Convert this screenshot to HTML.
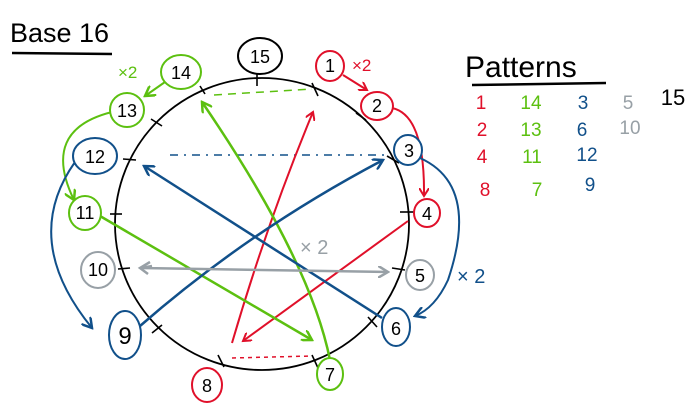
<!DOCTYPE html>
<html><head><meta charset="utf-8"><style>
html,body{margin:0;padding:0;background:#fff;width:696px;height:409px;overflow:hidden}
text{font-family:"Liberation Sans",sans-serif}
</style></head><body>
<svg width="696" height="409" viewBox="0 0 696 409" xmlns="http://www.w3.org/2000/svg">
<defs>
<marker id="r" markerWidth="10" markerHeight="10" refX="8" refY="5" orient="auto" markerUnits="userSpaceOnUse"><path d="M0,0 L8,5 L0,10" fill="none" stroke="#e0102a" stroke-width="2"/></marker>
<marker id="g" markerWidth="12" markerHeight="12" refX="10" refY="6" orient="auto" markerUnits="userSpaceOnUse"><path d="M0,0 L10,6 L0,12" fill="none" stroke="#5cc010" stroke-width="2.5"/></marker>
<marker id="b" markerWidth="12" markerHeight="12" refX="10" refY="6" orient="auto" markerUnits="userSpaceOnUse"><path d="M0,0 L10,6 L0,12" fill="none" stroke="#11508a" stroke-width="2.5"/></marker>
<marker id="y" markerWidth="12" markerHeight="12" refX="10" refY="6" orient="auto" markerUnits="userSpaceOnUse"><path d="M0,0 L10,6 L0,12" fill="none" stroke="#98a0a6" stroke-width="2.5"/></marker>
</defs>
<text x="10" y="42" font-size="27" fill="#000">Base 16</text>
<line x1="12" y1="53" x2="112" y2="54" stroke="#000" stroke-width="2.5"/>
<ellipse cx="262" cy="224" rx="147" ry="146" fill="none" stroke="#000" stroke-width="1.8"/>
<g stroke="#000" stroke-width="1.6">
<line x1="257" y1="72" x2="257" y2="86"/><line x1="312" y1="83" x2="318" y2="96"/><line x1="356" y1="113" x2="366" y2="120"/>
<line x1="387" y1="156" x2="399" y2="163"/><line x1="400" y1="212" x2="414" y2="212"/><line x1="392" y1="268" x2="405" y2="270"/>
<line x1="368" y1="317" x2="377" y2="327"/><line x1="312" y1="355" x2="318" y2="368"/><line x1="218" y1="355" x2="224" y2="367"/>
<line x1="152" y1="333" x2="162" y2="325"/><line x1="118" y1="269" x2="130" y2="268"/><line x1="110" y1="214" x2="122" y2="214"/>
<line x1="123" y1="159" x2="136" y2="160"/><line x1="151" y1="119" x2="162" y2="126"/><line x1="200" y1="86" x2="205" y2="94"/>
</g>
<path d="M214,95 L312,89" stroke="#5cc010" stroke-width="1.5" stroke-dasharray="8,6" fill="none"/>
<path d="M170,155 L390,155" stroke="#11508a" stroke-width="1.5" stroke-dasharray="8,6,2,6" fill="none"/>
<path d="M232,358 L312,356" stroke="#e0102a" stroke-width="1.5" stroke-dasharray="4,4" fill="none"/>
<line x1="408" y1="221" x2="243" y2="341" stroke="#e0102a" stroke-width="2" marker-end="url(#r)"/>
<path d="M232,343 Q268,220 313,112" stroke="#e0102a" stroke-width="2" fill="none" marker-end="url(#r)"/>
<path d="M330,360 Q310,260 202,102" stroke="#5cc010" stroke-width="2.5" fill="none" marker-end="url(#g)"/>
<line x1="100" y1="216" x2="312" y2="340" stroke="#5cc010" stroke-width="2.5" marker-end="url(#g)"/>
<line x1="382" y1="318" x2="144" y2="166" stroke="#11508a" stroke-width="2.5" marker-end="url(#b)"/>
<path d="M140,326 Q250,230 383,160" stroke="#11508a" stroke-width="2.5" fill="none" marker-end="url(#b)"/>
<path d="M152,266 L141,268 L388,272" stroke="#98a0a6" stroke-width="2.5" fill="none" marker-end="url(#y)"/>
<path d="M150,262 L140,268 L148,274" stroke="#98a0a6" stroke-width="2.5" fill="none"/>
<text x="300" y="254" font-size="20" fill="#98a0a6">× 2</text>
<path d="M343,75 L367,90" stroke="#e0102a" stroke-width="2" fill="none" marker-end="url(#r)"/>
<path d="M392,108 Q425,115 424,196" stroke="#e0102a" stroke-width="2" fill="none" marker-end="url(#r)"/>
<text x="352" y="71" font-size="17" fill="#e0102a">×2</text>
<path d="M165,82 L145,96" stroke="#5cc010" stroke-width="2" fill="none" marker-end="url(#g)"/>
<text x="118" y="78" font-size="17" fill="#5cc010">×2</text>
<path d="M112,112 Q40,130 74,200" stroke="#5cc010" stroke-width="2" fill="none" marker-end="url(#g)"/>
<path d="M75,162 Q20,240 92,328" stroke="#11508a" stroke-width="2" fill="none" marker-end="url(#b)"/>
<path d="M420,158 Q480,185 448,280 Q435,308 415,316" stroke="#11508a" stroke-width="2" fill="none" marker-end="url(#b)"/>
<text x="457" y="283" font-size="20" fill="#11508a">× 2</text>
<g fill="#fff" stroke-width="2">
<ellipse cx="260" cy="56" rx="22" ry="18" stroke="#000"/>
<ellipse cx="330" cy="66" rx="14" ry="15" stroke="#e0102a"/>
<ellipse cx="377" cy="106" rx="16" ry="14" stroke="#e0102a"/>
<ellipse cx="408" cy="150" rx="14" ry="15" stroke="#11508a"/>
<ellipse cx="427" cy="213" rx="13" ry="14" stroke="#e0102a"/>
<ellipse cx="420" cy="275" rx="14" ry="15" stroke="#98a0a6"/>
<ellipse cx="396" cy="327" rx="14" ry="19" stroke="#11508a"/>
<ellipse cx="330" cy="374" rx="13" ry="16" stroke="#5cc010"/>
<ellipse cx="207" cy="385" rx="15" ry="17" stroke="#e0102a"/>
<ellipse cx="125" cy="335" rx="16" ry="24" stroke="#11508a"/>
<ellipse cx="98" cy="270" rx="17" ry="18" stroke="#98a0a6"/>
<ellipse cx="85" cy="213" rx="16" ry="17" stroke="#5cc010"/>
<ellipse cx="95" cy="156" rx="22" ry="18" stroke="#11508a"/>
<ellipse cx="127" cy="110" rx="17" ry="17" stroke="#5cc010"/>
<ellipse cx="181" cy="72" rx="20" ry="17" stroke="#5cc010"/>
</g>
<g font-size="18" text-anchor="middle" fill="#000">
<text x="260" y="63">15</text><text x="330" y="72">1</text><text x="377" y="112">2</text><text x="409" y="157">3</text>
<text x="427" y="220">4</text><text x="420" y="282">5</text><text x="396" y="335">6</text><text x="330" y="381">7</text>
<text x="207" y="392">8</text><text x="125" y="344" font-size="24">9</text><text x="98" y="276">10</text><text x="85" y="219">11</text>
<text x="95" y="163">12</text><text x="127" y="117">13</text><text x="181" y="79">14</text>
</g>
<text x="465" y="77" font-size="30" fill="#000">Patterns</text>
<line x1="472" y1="85" x2="606" y2="83" stroke="#000" stroke-width="2.5"/>
<g font-size="19" text-anchor="middle">
<text x="481" y="109" fill="#e0102a">1</text><text x="482" y="136" fill="#e0102a">2</text><text x="482" y="163" fill="#e0102a">4</text><text x="485" y="196" fill="#e0102a">8</text>
<text x="531" y="109" fill="#5cc010">14</text><text x="531" y="136" fill="#5cc010">13</text><text x="532" y="163" fill="#5cc010">11</text><text x="537" y="196" fill="#5cc010">7</text>
<text x="583" y="109" fill="#11508a">3</text><text x="582" y="136" fill="#11508a">6</text><text x="587" y="161" fill="#11508a">12</text><text x="590" y="191" fill="#11508a">9</text>
<text x="628" y="109" fill="#98a0a6">5</text><text x="630" y="134" fill="#98a0a6">10</text>
<text x="673" y="105" fill="#000" font-size="22">15</text>
</g>
</svg>
</body></html>
